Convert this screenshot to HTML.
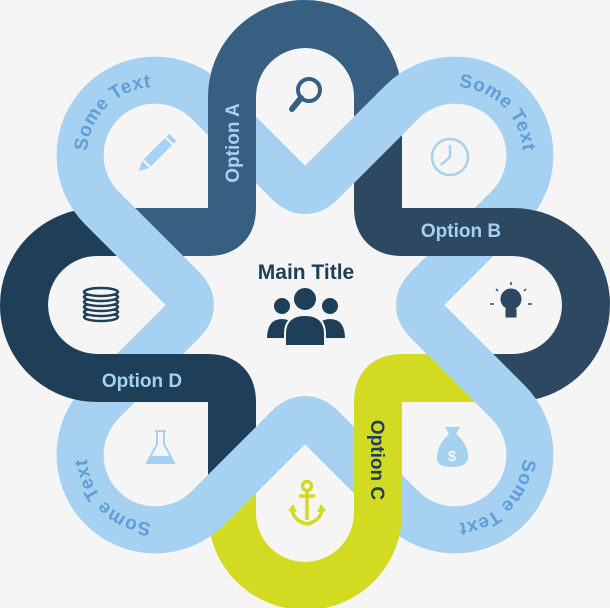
<!DOCTYPE html>
<html><head><meta charset="utf-8"><style>
html,body{margin:0;padding:0;background:#f5f5f5;width:610px;height:608px;overflow:hidden;}
svg{display:block}
</style></head><body>
<svg width="610" height="608" viewBox="0 0 610 608" xmlns="http://www.w3.org/2000/svg">
<rect width="610" height="608" fill="#f5f5f5"/>
<g fill="none" stroke-width="48" stroke-linejoin="round">
  <path stroke="#365f82" d="M120,232 L208,232 Q232,232 232,208 L232,97 A73,73 0 0 1 378,97 L378,128"/>
  <path stroke="#2d4962" d="M378,124 L378,208 Q378,232 402,232 L513,232 A73,73 0 0 1 513,378 L482,378"/>
  <path stroke="#d3da22" d="M486,378 L402,378 Q378,378 378,402 L378,513 A73,73 0 0 1 232,513 L232,482"/>
  <path stroke="#1e3f57" d="M232,486 L232,402 Q232,378 208,378 L97,378 A73,73 0 0 1 97,232 L124,232"/>
</g>
<g transform="rotate(45 305 305)">
<path fill="none" stroke="#a7d1f0" stroke-width="47" stroke-linejoin="round" d="M230,206 L230,93 A75,75 0 0 1 380,93 L380,206 Q380,230 404,230 L517,230 A75,75 0 0 1 517,380 L404,380 Q380,380 380,404 L380,517 A75,75 0 0 1 230,517 L230,404 Q230,380 206,380 L93,380 A75,75 0 0 1 93,230 L206,230 Q230,230 230,206 Z"/>
</g>
<g fill="none" stroke-width="48">
  <path stroke="#365f82" d="M232,200 L232,97 A73,73 0 0 1 305,24"/>
  <path stroke="#2d4962" d="M410,232 L513,232 A73,73 0 0 1 586,305"/>
  <path stroke="#d3da22" d="M378,410 L378,513 A73,73 0 0 1 305,586"/>
  <path stroke="#1e3f57" d="M200,378 L97,378 A73,73 0 0 1 24,305"/>
</g>
<defs>
  <path id="c1" d="M203.1,203.1 A68,68 0 1 1 106.9,106.9 A68,68 0 1 1 203.1,203.1"/>
  <path id="c2" d="M406.9,203.1 A68,68 0 1 1 503.1,106.9 A68,68 0 1 1 406.9,203.1"/>
  <path id="c3" d="M406.9,406.9 A68,68 0 1 1 503.1,503.1 A68,68 0 1 1 406.9,406.9"/>
  <path id="c4" d="M203.1,406.9 A68,68 0 1 1 106.9,503.1 A68,68 0 1 1 203.1,406.9"/>
</defs>
<g font-family="Liberation Sans, sans-serif" font-weight="bold" font-size="19" fill="#5e9fdb" letter-spacing="0.5">
  <text><textPath href="#c1" startOffset="50%" text-anchor="middle">Some Text</textPath></text>
  <text><textPath href="#c2" startOffset="50%" text-anchor="middle">Some Text</textPath></text>
  <text><textPath href="#c3" startOffset="50%" text-anchor="middle">Some Text</textPath></text>
  <text><textPath href="#c4" startOffset="50%" text-anchor="middle">Some Text</textPath></text>
</g>
<g font-family="Liberation Sans, sans-serif" font-weight="bold" font-size="19" text-anchor="middle">
  <text x="0" y="0" fill="#a7d1f0" transform="translate(239,143) rotate(-90)">Option A</text>
  <text x="461" y="237" fill="#a7d1f0">Option B</text>
  <text x="0" y="0" fill="#1e3f57" transform="translate(371,460) rotate(90)">Option C</text>
  <text x="142" y="387" fill="#a7d1f0">Option D</text>
  <text x="306" y="279" fill="#1e3f57" font-size="21">Main Title</text>
</g>
<g fill="#1e3f57" stroke="#f5f5f5" stroke-width="2">
  <circle cx="282" cy="306" r="9"/>
  <circle cx="330" cy="306" r="9"/>
  <path d="M266,339 Q266,318 282,318 Q298,318 298,339 Z"/>
  <path d="M314,339 Q314,318 330,318 Q346,318 346,339 Z"/>
  <circle cx="305" cy="299" r="12"/>
  <path d="M285,346 L285,334 Q285,315 305,315 Q325,315 325,334 L325,346 Z"/>
</g>
<g stroke="#365f82" fill="none">
  <circle cx="309" cy="90" r="11" stroke-width="4"/>
  <line x1="301" y1="98" x2="292" y2="109" stroke-width="6" stroke-linecap="round"/>
</g>
<g stroke="#a7d1f0" fill="none" stroke-width="2.5">
  <circle cx="450" cy="157" r="18"/>
  <path d="M450,145 L450,157 L441,165"/>
</g>
<g transform="rotate(45 155 155)" fill="#a7d1f0">
  <rect x="150" y="136" width="10" height="30"/>
  <path d="M150,168 L160,168 L155,178 Z"/>
  <rect x="150" y="130" width="10" height="4"/>
</g>
<g fill="#2d4962" stroke="#2d4962">
  <circle cx="511" cy="299" r="10"/>
  <rect x="506" y="309" width="10" height="8"/>
  <g stroke-width="1.5"><line x1="511" y1="282" x2="511" y2="285"/><line x1="496" y1="289" x2="498" y2="291"/><line x1="526" y1="289" x2="524" y2="291"/><line x1="490" y1="304" x2="494" y2="304"/><line x1="528" y1="304" x2="532" y2="304"/></g>
</g>
<g fill="#a7d1f0">
  <path d="M445,427 L460,427 L456,434 Q469,445 468,458 Q467,467 452,467 Q437,467 437,458 Q437,445 449,434 Z"/>
  <text x="452" y="461" font-family="Liberation Sans, sans-serif" font-weight="bold" font-size="15" fill="#f5f5f5" text-anchor="middle">$</text>
</g>
<g stroke="#d3da22" fill="none" stroke-width="3.5">
  <circle cx="307" cy="486" r="4.5"/>
  <line x1="307" y1="491" x2="307" y2="520"/>
  <line x1="299" y1="496" x2="315" y2="496"/>
  <path d="M292,510 Q294,521 307,524 Q320,521 322,510"/>
</g>
<g fill="#d3da22"><path d="M288,511 L293,504 L297,512 Z"/><path d="M326,511 L321,504 L317,512 Z"/></g>
<g stroke="#a7d1f0" fill="none" stroke-width="2">
  <path d="M155,431 L166,431 M157,431 L157,444 L147,463 L174,463 L164,444 L164,431"/>
</g>
<path d="M150,456 L171,456 L174,463 L147,463 Z" fill="#a7d1f0"/>
<g fill="#f5f5f5" stroke="#1e3f57" stroke-width="2.5">
  <ellipse cx="101" cy="317" rx="17" ry="4"/>
  <ellipse cx="101" cy="312" rx="17" ry="4"/>
  <ellipse cx="101" cy="307" rx="17" ry="4"/>
  <ellipse cx="101" cy="302" rx="17" ry="4"/>
  <ellipse cx="101" cy="297" rx="17" ry="4"/>
  <ellipse cx="101" cy="292" rx="17" ry="4"/>
</g>
</svg>
</body></html>
